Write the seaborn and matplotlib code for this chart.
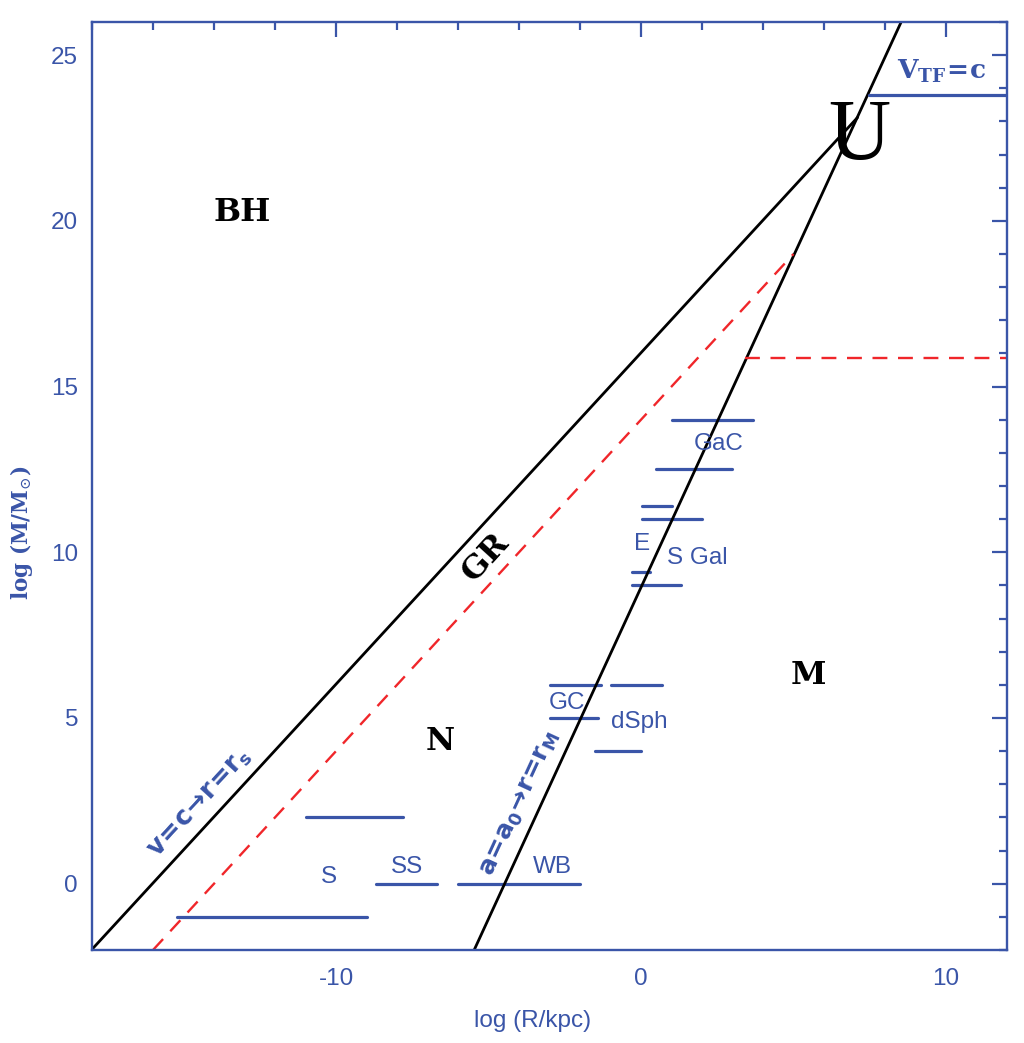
import numpy as np
import pandas as pd
import matplotlib
matplotlib.use("Agg")
import matplotlib.pyplot as plt
from matplotlib.ticker import MultipleLocator
import seaborn as sns

# ---------------- data ----------------
# object-class horizontal bars: level log(M), start/end log(R)
seg_y  = [-1.0, 2.0, 0.0, 0.0, 4.0, 5.0, 6.0, 6.0, 9.0, 9.4, 11.0, 11.4, 12.5, 14.0]
seg_x0 = [-15.2, -11.0, -8.7, -6.0, -1.5, -3.0, -3.0, -1.0, -0.3, -0.3, 0.02, 0.02, 0.5, 1.03]
seg_x1 = [-9.0, -7.8, -6.7, -2.0, 0.0, -1.42, -1.3, 0.7, 1.3, 0.3, 2.0, 1.0, 2.97, 3.68]

# theory lines (end points)
rs_x = [-18.0, 7.1];   rs_y = [-1.98, 23.12]     # v = c -> r = r_s
rm_x = [-5.47, 8.53];  rm_y = [-2.0, 26.0]       # a = a0 -> r = r_M
red_x = [-16.0, 5.0];  red_y = [-2.0, 19.0]      # dashed diagonal
redh_x = [3.41, 12.0]; redh_y = [15.86, 15.86]   # dashed horizontal
vtf_x = [7.49, 12.0];  vtf_y = [23.79, 23.79]    # V_TF = c

# labels
small_labels = ["S", "SS", "WB", "GC", "dSph", "E", "S Gal", "GaC"]
small_x = [-10.23, -7.68, -2.89, -2.44, -0.05, 0.05, 1.83, 2.54]
small_y = [0.21, 0.51, 0.51, 5.44, 4.89, 10.25, 9.82, 13.28]

region_labels = ["BH", "N", "M"]
region_x = [-13.08, -6.59, 5.48]
region_y = [20.26, 4.28, 6.27]

xticks = [-10, 0, 10]
yticks = [0, 5, 10, 15, 20, 25]

# ---------------- style ----------------
BLUE = "#3a55a8"
RED = "#f0262a"
sns.set_theme(style="white")
plt.rcParams["font.family"] = ["Liberation Sans", "DejaVu Sans"]

fig = plt.figure(figsize=(10.24, 10.43), dpi=100)
ax = fig.add_axes([92 / 1024, 1 - 950 / 1043, 915 / 1024, 928 / 1043])

# horizontal bars
segs = pd.DataFrame({
    "x": np.ravel(np.column_stack([seg_x0, seg_x1])),
    "y": np.repeat(seg_y, 2),
    "seg": np.repeat(np.arange(len(seg_y)), 2),
})
sns.lineplot(data=segs, x="x", y="y", units="seg", estimator=None, sort=False,
             color=BLUE, lw=2.3, ax=ax, legend=False)

# theory lines
def line(xs, ys, dash=None, **kw):
    d = pd.DataFrame({"x": xs, "y": ys})
    n0 = len(ax.lines)
    sns.lineplot(data=d, x="x", y="y", sort=False, estimator=None, ax=ax, **kw)
    if dash is not None:
        for ln in ax.lines[n0:]:
            ln.set_dashes(dash)

line(rs_x, rs_y, color="black", lw=2.0)
line(rm_x, rm_y, color="black", lw=2.0)
line(red_x, red_y, color=RED, lw=1.7, dash=(6.3, 4.5))
line(redh_x, redh_y, color=RED, lw=1.7, dash=(6.3, 4.5))
line(vtf_x, vtf_y, color=BLUE, lw=2.3)

# axis limits / ticks
ax.set_xlim(-18, 12)
ax.set_ylim(-2, 26)
ax.set_xticks(xticks)
ax.set_yticks(yticks)
ax.set_xticklabels([str(t) for t in xticks])
ax.set_yticklabels([str(t) for t in yticks])
ax.xaxis.set_minor_locator(MultipleLocator(2))
ax.yaxis.set_minor_locator(MultipleLocator(1))
ax.tick_params(which="both", direction="in", top=True, right=True,
               color=BLUE, width=1.6, labelcolor=BLUE, labelsize=17.5)
ax.tick_params(which="major", length=11)
ax.tick_params(which="minor", length=5.5)
ax.tick_params(axis="y", which="major", pad=10)
ax.tick_params(axis="x", which="major", pad=13)
for sp in ax.spines.values():
    sp.set_color(BLUE)
    sp.set_linewidth(1.7)
    sp.set_visible(True)

ax.set_xlabel("log (R/kpc)", color=BLUE, fontsize=17.5)
ax.xaxis.set_label_coords(0.482, -0.065)
ax.set_ylabel(r"log (M/M$_{\odot}$)", color=BLUE, fontsize=15.5,
              family="DejaVu Serif", weight="bold", math_fontfamily="dejavuserif")
ax.yaxis.set_label_coords(-0.062, 0.449)

# small blue labels
for t, x, y in zip(small_labels, small_x, small_y):
    ax.text(x, y, t, color=BLUE, fontsize=17.5, ha="center", va="center")

# region labels
for t, x, y in zip(region_labels, region_x, region_y):
    ax.text(x, y, t, color="black", fontsize=23, ha="center", va="center",
            family="DejaVu Serif", weight="bold")
ax.text(-5.08, 9.85, "GR", color="black", fontsize=23, ha="center", va="center",
        family="DejaVu Serif", weight="bold", rotation=47.4, rotation_mode="anchor")

# line labels
ax.text(-14.46, 2.43, r"$\mathbf{v\!=\!c\!\rightarrow\!r\!=\!r_s}$", color=BLUE,
        fontsize=18.5, ha="center", va="center", rotation=47.4,
        rotation_mode="anchor", math_fontfamily="dejavusans")
ax.text(-3.97, 2.43, r"$\mathbf{a\!=\!a_0\!\rightarrow\!r\!=\!r_M}$", color=BLUE,
        fontsize=18, ha="center", va="center", rotation=65.3,
        rotation_mode="anchor", math_fontfamily="dejavusans")
ax.text(9.85, 24.28, r"$\mathbf{V_{TF}\!=\!c}$", color=BLUE, fontsize=19,
        ha="center", va="baseline", math_fontfamily="dejavuserif")

# universe symbol
ax.text(7.15, 22.48, "U", color="black", fontsize=62, ha="center", va="center",
        family="Liberation Serif")

fig.savefig("out.png", dpi=100)
